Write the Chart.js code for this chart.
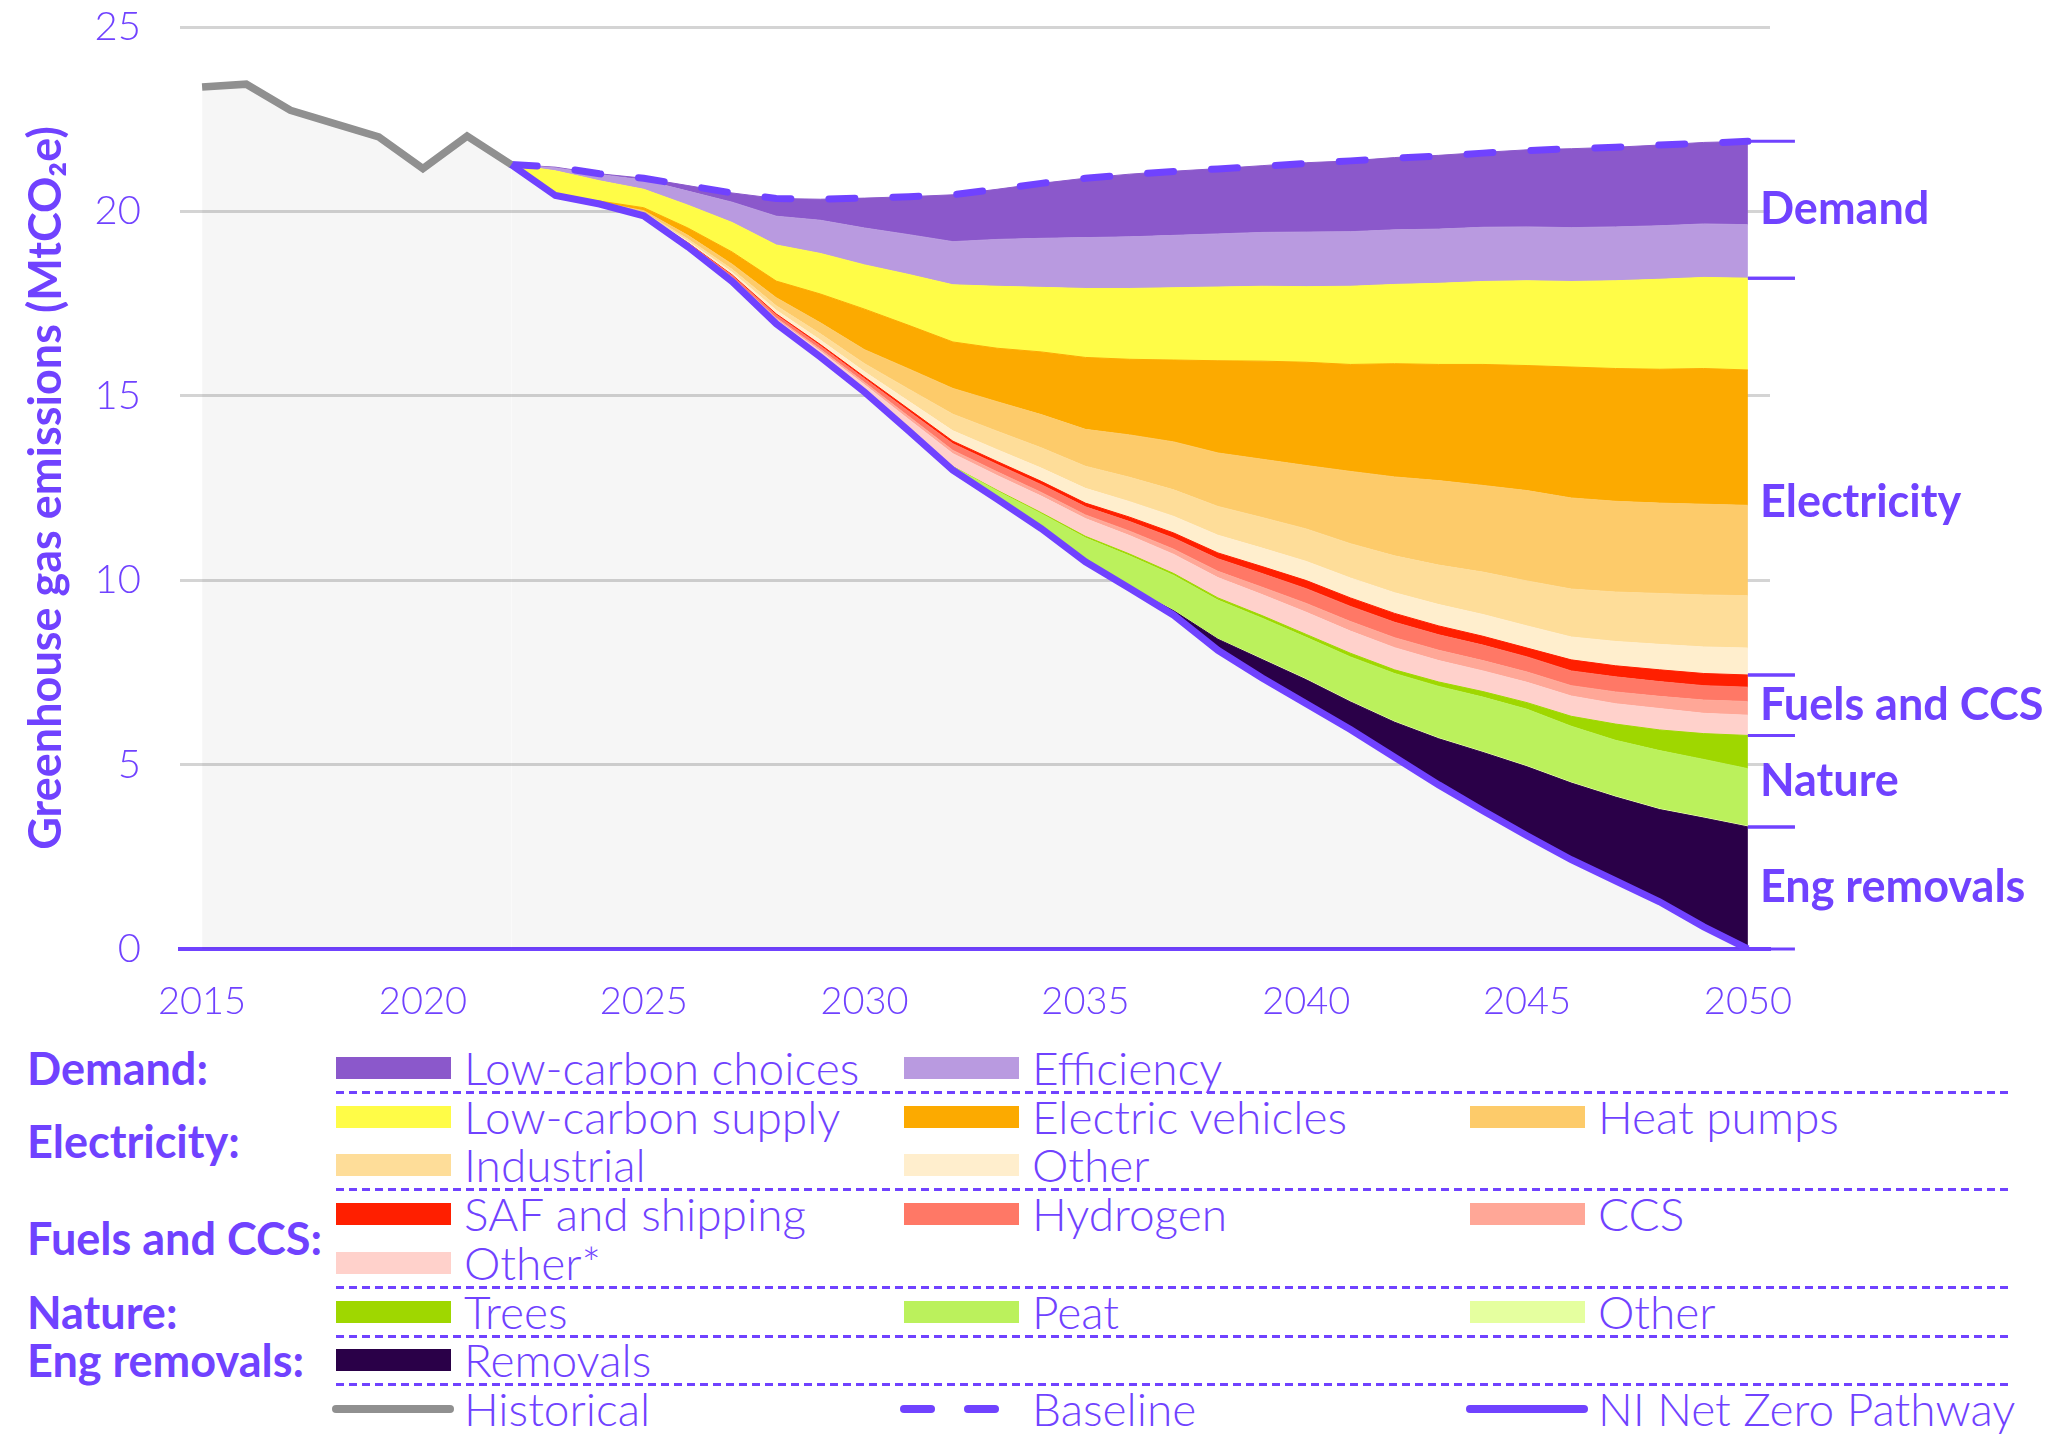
<!DOCTYPE html>
<html>
<head>
<meta charset="utf-8">
<script src="https://cdn.jsdelivr.net/npm/chart.js@4.4.0/dist/chart.umd.min.js"></script>
<style>
  body { margin: 0; background: #fff; width: 2048px; height: 1434px; position: relative; overflow: hidden; font-family: Lato, sans-serif; }
  #chart { position: absolute; left: 0; top: 0; }
  .grp { position: absolute; left: 27px; font-weight: 700; font-size: 45px; color: #7042ff; line-height: 1; transform: translateY(-50%); white-space: nowrap; }
  .sw { position: absolute; width: 115px; height: 22px; transform: translateY(-50%); }
  .ln { position: absolute; height: 8px; border-radius: 4px; transform: translateY(-50%); }
  .txt { position: absolute; font-size: 46px; font-weight: 300; color: #7042ff; line-height: 1; transform: translateY(-50%); white-space: nowrap; }
  .sep { position: absolute; left: 336px; width: 1672px; height: 3px; background: repeating-linear-gradient(to right, #7042ff 0 8px, transparent 8px 13px); }
</style>
</head>
<body>
<canvas id="chart" width="2048" height="1030"></canvas>
<div id="legend"></div>
<script>
const purple = '#7042ff';

const years = ['2015', '2016', '2017', '2018', '2019', '2020', '2021', '2022', '2023', '2024',
  '2025', '2026', '2027', '2028', '2029', '2030', '2031', '2032', '2033', '2034', '2035',
  '2036', '2037', '2038', '2039', '2040', '2041', '2042', '2043', '2044', '2045', '2046',
  '2047', '2048', '2049', '2050'];

// MtCO2e, 2015-2022 history then 2022-2050 projections
const historical = [23.37, 23.45, 22.74, 22.38, 22.02, 21.16, 22.04, 21.27];
const baseline = [21.27, 21.2, 21.02, 20.9, 20.7, 20.5, 20.35, 20.33, 20.36, 20.4, 20.45, 20.6,
  20.76, 20.9, 21.0, 21.08, 21.15, 21.22, 21.3, 21.37, 21.44, 21.5, 21.58, 21.65, 21.7, 21.74,
  21.8, 21.85, 21.9];
const pathway = [21.27, 20.43, 20.2, 19.88, 19.04, 18.1, 16.95, 16.05, 15.1, 14.05, 12.98, 12.2,
  11.4, 10.5, 9.78, 9.05, 8.1, 7.35, 6.65, 5.95, 5.2, 4.45, 3.75, 3.07, 2.42, 1.85, 1.28, 0.6, 0];

// abatement wedges 2022-2050, sitting on top of the pathway
const removals = [0, 0, 0, 0, 0, 0, 0, 0, 0, 0, 0, 0, 0, 0, 0.02, 0.12, 0.3, 0.5, 0.65, 0.75,
  0.95, 1.25, 1.58, 1.87, 2.08, 2.27, 2.5, 2.95, 3.31];
const otherNature = [0, 0, 0, 0, 0, 0, 0, 0, 0, 0, 0, 0, 0, 0, 0.01, 0.01, 0.01, 0.02, 0.02,
  0.02, 0.02, 0.02, 0.02, 0.02, 0.02, 0.02, 0.02, 0.02, 0.02];
const peat = [0, 0, 0, 0, 0, 0, 0, 0, 0, 0.03, 0.1, 0.22, 0.4, 0.65, 0.85, 0.95, 1.05, 1.1, 1.13,
  1.2, 1.3, 1.4, 1.48, 1.54, 1.52, 1.52, 1.58, 1.57, 1.56];
const trees = [0, 0, 0, 0, 0, 0, 0, 0, 0, 0, 0, 0.02, 0.03, 0.04, 0.05, 0.05, 0.06, 0.07, 0.08,
  0.1, 0.1, 0.12, 0.15, 0.18, 0.27, 0.44, 0.56, 0.7, 0.9];
const otherFuels = [0, 0, 0.01, 0.02, 0.05, 0.08, 0.12, 0.16, 0.2, 0.28, 0.35, 0.4, 0.45, 0.48,
  0.5, 0.52, 0.55, 0.57, 0.6, 0.6, 0.6, 0.58, 0.56, 0.55, 0.55, 0.55, 0.58, 0.55, 0.55];
const ccs = [0, 0, 0, 0.01, 0.02, 0.03, 0.04, 0.05, 0.06, 0.08, 0.09, 0.1, 0.1, 0.1, 0.12, 0.14,
  0.17, 0.2, 0.24, 0.26, 0.27, 0.28, 0.28, 0.28, 0.28, 0.32, 0.33, 0.36, 0.37];
const hydrogen = [0, 0, 0, 0.01, 0.03, 0.05, 0.08, 0.09, 0.1, 0.14, 0.18, 0.2, 0.21, 0.22, 0.26,
  0.3, 0.34, 0.37, 0.4, 0.41, 0.42, 0.42, 0.42, 0.41, 0.4, 0.41, 0.4, 0.39, 0.39];
const safShipping = [0, 0, 0, 0, 0.01, 0.02, 0.03, 0.04, 0.05, 0.06, 0.07, 0.08, 0.09, 0.1, 0.12,
  0.14, 0.16, 0.19, 0.22, 0.23, 0.24, 0.24, 0.24, 0.24, 0.3, 0.3, 0.32, 0.33, 0.33];
const otherElectricity = [0, 0, 0.01, 0.02, 0.04, 0.07, 0.1, 0.12, 0.14, 0.21, 0.28, 0.32, 0.36,
  0.4, 0.42, 0.45, 0.48, 0.5, 0.52, 0.54, 0.56, 0.58, 0.59, 0.6, 0.62, 0.66, 0.69, 0.72, 0.73];
const industrial = [0, 0, 0.01, 0.03, 0.06, 0.08, 0.12, 0.17, 0.22, 0.33, 0.45, 0.5, 0.55, 0.6,
  0.66, 0.72, 0.78, 0.83, 0.88, 0.93, 1.0, 1.07, 1.15, 1.22, 1.3, 1.34, 1.38, 1.41, 1.42];
const heatPumps = [0, 0, 0.02, 0.05, 0.1, 0.14, 0.22, 0.3, 0.38, 0.55, 0.7, 0.8, 0.9, 1.0, 1.15,
  1.3, 1.45, 1.58, 1.72, 1.96, 2.14, 2.29, 2.35, 2.45, 2.47, 2.46, 2.45, 2.46, 2.45];
const electricVehicles = [0, 0, 0.03, 0.08, 0.2, 0.33, 0.45, 0.78, 1.1, 1.18, 1.26, 1.45, 1.7,
  1.95, 2.05, 2.22, 2.5, 2.66, 2.8, 2.9, 3.07, 3.15, 3.28, 3.39, 3.55, 3.6, 3.63, 3.68, 3.67];
const lowCarbonSupply = [0, 0.67, 0.55, 0.5, 0.62, 0.8, 0.98, 1.1, 1.2, 1.38, 1.55, 1.68, 1.75,
  1.87, 1.92, 1.96, 2.0, 2.03, 2.05, 2.12, 2.15, 2.2, 2.25, 2.3, 2.32, 2.38, 2.44, 2.47, 2.49];
const efficiency = [0, 0.08, 0.17, 0.25, 0.38, 0.55, 0.78, 0.9, 1.0, 1.08, 1.17, 1.27, 1.33, 1.38,
  1.4, 1.42, 1.44, 1.46, 1.48, 1.48, 1.48, 1.47, 1.47, 1.46, 1.46, 1.46, 1.45, 1.45, 1.45];
const lowCarbonChoices = [0, 0.02, 0.02, 0.05, 0.15, 0.25, 0.48, 0.57, 0.81, 1.03, 1.27, 1.36,
  1.49, 1.61, 1.7, 1.74, 1.77, 1.81, 1.88, 1.92, 1.96, 2.0, 2.03, 2.09, 2.14, 2.16, 2.19, 2.21, 2.26];

const groupNames = ['Demand', 'Electricity', 'Fuels and CCS', 'Nature', 'Eng removals'];

// top-down order, as in the key
const wedgeNames = ['Low-carbon choices', 'Efficiency', 'Low-carbon supply', 'Electric vehicles',
  'Heat pumps', 'Industrial', 'Other', 'SAF and shipping', 'Hydrogen', 'CCS', 'Other*',
  'Trees', 'Peat', 'Other', 'Removals'];
const wedgeGroups = [0, 0, 1, 1, 1, 1, 1, 2, 2, 2, 2, 3, 3, 3, 4];
const wedgeColors = ['#8b58cb', '#b99ae0', '#fffc47', '#fcaa00', '#fdcb6a', '#fedd99', '#ffeecd',
  '#ff1f00', '#ff7866', '#ffa797', '#ffd1cb', '#9fd700', '#bbf15c', '#e5ff9f', '#2a0048'];
const wedgeData = [lowCarbonChoices, efficiency, lowCarbonSupply, electricVehicles, heatPumps,
  industrial, otherElectricity, safShipping, hydrogen, ccs, otherFuels, trees, peat, otherNature,
  removals];

const lineNames = ['Historical', 'Baseline', 'NI Net Zero Pathway'];
const lineColors = ['#909090', purple, purple];

const startIdx = years.indexOf('2022');
const fromStart = arr => Array(startIdx).fill(null).concat(arr);
const histFull = historical.concat(Array(years.length - historical.length).fill(null));

const datasets = [
  { label: 'Historical', data: histFull, stack: 'hist', borderColor: lineColors[0], borderWidth: 7.5,
    fill: 'origin', backgroundColor: 'rgba(0,0,0,0.035)' },
  { label: 'Baseline', data: fromStart(baseline), stack: 'base', borderColor: lineColors[1], borderWidth: 7,
    borderDash: [26, 38], borderCapStyle: 'round', fill: false },
  { label: 'NI Net Zero Pathway', data: fromStart(pathway), stack: 'w', borderColor: lineColors[2], borderWidth: 7,
    fill: 'origin', backgroundColor: 'rgba(0,0,0,0.035)' }
];
// stacked bottom-up on the pathway
for (let k = wedgeNames.length - 1; k >= 0; k--) {
  datasets.push({
    label: wedgeNames[k], data: fromStart(wedgeData[k]), stack: 'w',
    borderColor: wedgeColors[k], backgroundColor: wedgeColors[k], borderWidth: 1, fill: '-1'
  });
}
const dsIndex = k => 3 + (wedgeNames.length - 1 - k);

const bracketPlugin = {
  id: 'brackets',
  afterDatasetsDraw(chart) {
    const ctx = chart.ctx;
    const last = years.length - 1;
    const yAt = d => chart.getDatasetMeta(d).data[last].y;
    const x0 = chart.getDatasetMeta(2).data[last].x;
    const labelShift = [0, 26, 0, 0, 0]; // Electricity label sits a little low in the original
    ctx.save();
    ctx.strokeStyle = purple;
    ctx.lineWidth = 3;
    ctx.fillStyle = purple;
    ctx.font = '700 45px Lato';
    ctx.textBaseline = 'middle';
    groupNames.forEach((name, g) => {
      const members = wedgeGroups.map((gg, k) => gg === g ? k : -1).filter(k => k >= 0);
      const top = yAt(dsIndex(Math.min(...members)));
      const bottom = yAt(dsIndex(Math.max(...members)) - 1);
      [top, bottom].forEach(y => {
        ctx.beginPath();
        ctx.moveTo(x0, y);
        ctx.lineTo(x0 + 47, y);
        ctx.stroke();
      });
      ctx.fillText(name, x0 + 12, (top + bottom) / 2 + labelShift[g]);
    });
    ctx.restore();
  }
};

new Chart(document.getElementById('chart'), {
  type: 'line',
  data: { labels: years, datasets: datasets },
  plugins: [bracketPlugin],
  options: {
    responsive: false,
    animation: false,
    devicePixelRatio: 1,
    layout: { padding: { top: 27, right: 278, left: 0, bottom: 0 } },
    elements: { point: { radius: 0 }, line: { tension: 0 } },
    plugins: { legend: { display: false }, tooltip: { enabled: false } },
    scales: {
      x: {
        offset: true,
        grid: { display: false, drawTicks: false },
        border: { display: true, color: purple, width: 4 },
        ticks: {
          autoSkip: false, maxRotation: 0, padding: 30, color: purple,
          font: { family: 'Lato', size: 38, weight: 300 },
          callback: (v, i) => (+years[i] % 5 === 0 ? years[i] : '')
        },
        afterFit: s => { s.height = 81; }
      },
      y: {
        stacked: true, min: 0, max: 25,
        grid: { color: '#d4d4d4', lineWidth: 3, drawTicks: true, tickLength: 39, tickColor: 'rgba(0,0,0,0)' },
        border: { display: false },
        ticks: { stepSize: 5, padding: 0, color: purple, font: { family: 'Lato', size: 40, weight: 300 } },
        title: {
          display: true, text: 'Greenhouse gas emissions (MtCO₂e)', color: purple,
          font: { family: 'Lato', size: 45, weight: 700 }, padding: { top: 19, bottom: 0 }
        },
        afterFit: s => { s.width = 180; }
      }
    }
  }
});

// grouped key below the chart
const legend = document.getElementById('legend');
const rowY = r => 1068 + r * 48.7;
const colX = [336, 904, 1470];
function add(cls, css, text) {
  const el = document.createElement('div');
  el.className = cls;
  Object.assign(el.style, css);
  if (text) el.textContent = text;
  legend.appendChild(el);
}
let row = 0;
groupNames.forEach((name, g) => {
  const members = wedgeGroups.map((gg, k) => gg === g ? k : -1).filter(k => k >= 0);
  const rows = Math.ceil(members.length / 3);
  add('grp', { top: ((rowY(row) + rowY(row + rows - 1)) / 2) + 'px' }, name + ':');
  members.forEach((k, j) => {
    const r = row + Math.floor(j / 3);
    const c = j % 3;
    add('sw', { left: colX[c] + 'px', top: rowY(r) + 'px', background: wedgeColors[k] });
    add('txt', { left: (colX[c] + 128) + 'px', top: rowY(r) + 'px' }, wedgeNames[k]);
  });
  row += rows;
  add('sep', { top: (rowY(row - 1) + 23) + 'px' });
});
lineNames.forEach((name, c) => {
  const y = rowY(row) + 'px';
  if (c === 1) {
    add('ln', { left: (colX[c] - 4) + 'px', width: '35px', top: y, background: lineColors[c] });
    add('ln', { left: (colX[c] + 60) + 'px', width: '35px', top: y, background: lineColors[c] });
  } else {
    add('ln', { left: (colX[c] - 4) + 'px', width: '122px', top: y, background: lineColors[c] });
  }
  add('txt', { left: (colX[c] + 128) + 'px', top: y }, name);
});
</script>
</body>
</html>
